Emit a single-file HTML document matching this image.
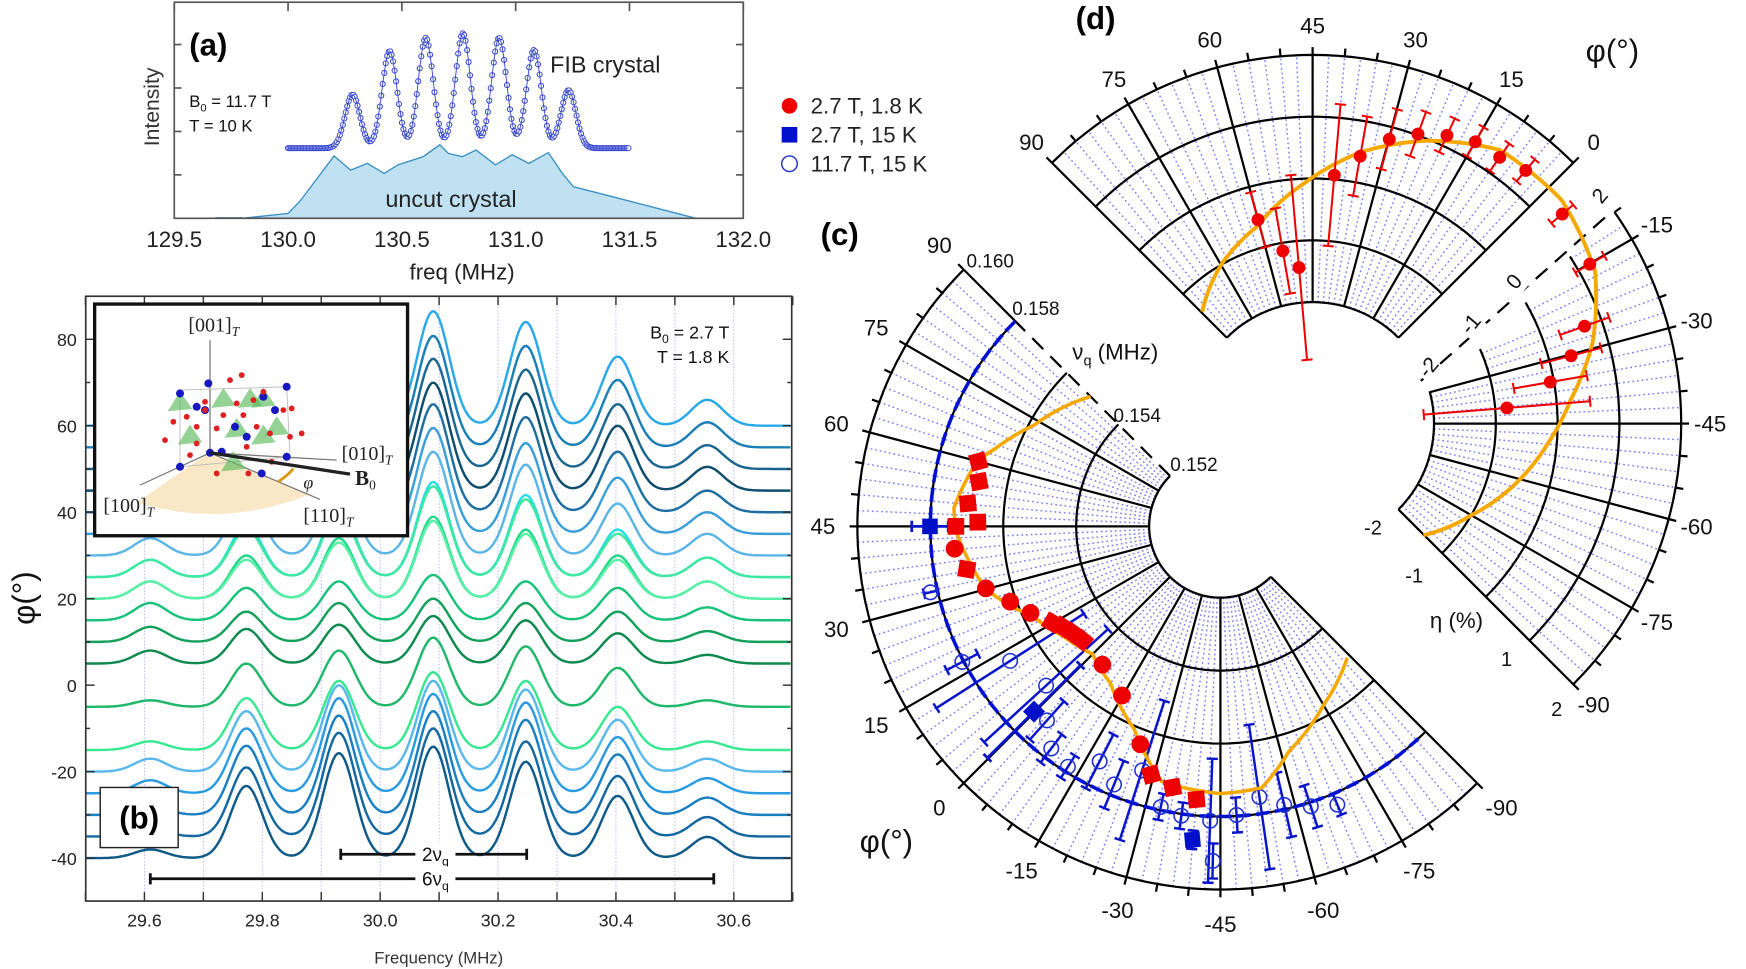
<!DOCTYPE html>
<html><head><meta charset="utf-8"><style>
html,body{margin:0;padding:0;background:#fff;}
svg{display:block;font-family:"Liberation Sans",Arial,sans-serif;}
</style></head><body>
<svg id="fig" width="1746" height="969" viewBox="0 0 1568 870" preserveAspectRatio="none" xmlns="http://www.w3.org/2000/svg">
<defs><clipPath id="clipB"><rect x="77" y="266" width="634" height="543"/></clipPath></defs>
<g id="pa"></g>
<g id="leg"></g>
<g id="pb"></g>
<g id="pc"></g>
<g id="pd"></g>
</svg>
<script>
// ---------- Panel (a) data ----------
const aTicks=[129.5,130.0,130.5,131.0,131.5,132.0];
const fibFreq=[130.283,130.446,130.605,130.768,130.927,131.080,131.232];
const fibHeight=[48,87,99,103,99,88,52];
const fibBase=63;
const uncutFreq=[129.798,130.0,130.055,130.202,130.275,130.349,130.422,130.483,130.593,130.667,130.704,130.765,130.826,130.911,130.985,131.058,131.144,131.205,131.254,131.425,131.792];
const uncutInt=[0,4.4,16,56,43.3,49.3,40.3,48,55.3,66,58.3,55.3,61.3,48,57,49.3,59,40.3,28.3,19.4,0];
// ---------- Panel (b) data ----------
const bXTicks=[29.6,29.8,30.0,30.2,30.4,30.6];
const bYTicks=[-40,-20,0,20,40,60,80];
const traceAngles=[60,55,50,45,40,35,30,25,25,20,20,15,10,5,-5,-15,-20,-25,-30,-35,-40];
const peakFreqs=[29.61,29.773,29.93,30.09,30.247,30.403,30.555];
const peakHeights=[
[2,20,24,26.5,24,16,6],[2,20,24,25.8,23.5,15.6,5.8],[2,20,24,25.5,23,15,5.5],[2,19,23,25,22.5,15,5.5],
[2,18,22,25,22,14,5],[3,16,20,24.5,21,13,5],[4,14,18,24,21,12,5],[4,12,16,22,19,11,4.5],
[4,11,15,21,18,10,4.5],[4,10,14,19,16,10,4],[4,9,13,18,15,9,4],[4,7.5,9,10.5,9,7.5,3],
[3.5,7,9,10,9,7,2.5],[3,8,9,11,10,7,2],[1.5,10,13,16,14,9,1.5],[2,12,16,18,16,10,2],
[3,14,20,21,19,12,3],[3,15,22,23,21,13,3.5],[2.5,16,23,24,22,14,4],[2,16,24,25,22,14,4.5],[2,16.7,24.3,25.8,22.3,14.4,4.9]];
const traceColors=['#2aa8e8','#1a7fb5','#1a6690','#0e4d6e','#1e6fa0','#3a9fd8','#5bb5e6','#2adbe8','#3ee8a0','#22d88a','#5af0a8','#19c27a','#13a05a','#0f8a4f','#1fb86a','#38e890','#5ab8ec','#2a9be0','#1a7fc0','#1468a0','#0f5a88'];
// ---------- Panel (c) data ----------
const cLabels=[90,75,60,45,30,15,0,-15,-30,-45,-60,-75,-90];
const cRings=[0.152,0.154,0.156,0.158,0.160];
const cOrangePhi=[90,73.5,64,60,49,44,30,19,10,0,-10,-22,-32,-45,-54,-62,-75,-89];
const cOrangeNu=[0.15508,0.15586,0.15658,0.15695,0.15737,0.1573,0.1567,0.15573,0.1553,0.155,0.1553,0.15609,0.15722,0.15737,0.1573,0.15649,0.1557,0.15505];
const cRedPhi=[60,55.5,50.2,46,45,40.2,35.4,30.2,25.3,20.5,15.2,12.6,9,5.5,-4.5,-14.8,-24.8,-29.4,-34.6,-40];
const cRedNu=[0.15692,0.15678,0.157,0.1567,0.1573,0.15736,0.1571,0.1567,0.15617,0.15577,0.15536,0.15518,0.15504,0.15495,0.15503,0.15541,0.15641,0.15711,0.15732,0.15756];
const cRedShape=['s','s','s','s','s','c','s','c','c','c','s','s','s','s','c','c','c','s','s','s'];
const cOpenPhi=[32.2,17.3,12.4,2.6,-3.2,-7.7,-12.6,-17.8,-22.6,-27.2,-33,-37.3,-43,-43.7,-48.2,-53.2,-57.9,-62.9,-67.8];
const cOpenNu=[0.1582,0.15804,0.15689,0.15652,0.15718,0.1577,0.15785,0.15729,0.1577,0.15707,0.15791,0.15805,0.15812,0.15922,0.15797,0.15754,0.15788,0.15811,0.15832];
const cOpenErr=[0.00018,0.00048,0.0024,0.0023,0.0007,0.00048,0.00036,0.00083,0.0007,0.002,0.00036,0.00036,0.0017,0.00048,0.00048,0.002,0.0009,0.0006,0.0003];
const cFillPhi=[45,0.2,-39.9];
const cFillNu=[0.15801,0.15725,0.15867];
const cFillErr=[0.0005,0.0018,0.00025];
const cDashPhi=[90,60,30,0,-30,-60,-88];
const cDashNu=[0.158,0.158,0.158,0.158,0.158,0.158,0.158];
// ---------- Panel (d) data ----------
const dLabels=[90,75,60,45,30,15,0,-15,-30,-45,-60,-75,-90];
const dEtaTicks=[-2,-1,0,1,2];
const dOrangePhi=[89.6,75,60.7,46.9,34.8,22.8,10.6,-3.1,-16.6,-28.9,-39.7,-50,-58.9,-75,-90.2];
const dOrangeEta=[-1.42,-1.0,-0.65,-0.07,0.5,0.98,1.40,1.45,1.23,0.75,0.23,-0.15,-0.45,-1.0,-1.42];
const dRedPhi=[60,54.8,50,40,34.9,29.9,25,20,15,9.9,4.9,-5,-15.1,-25.3,-30.3,-35.1,-40.4];
const dRedEta=[-0.55,-1.13,-1.43,0.07,0.43,0.8,1.02,1.18,1.30,1.30,1.39,1.31,1.21,0.71,0.36,-0.06,-0.81];
const dRedErr=[0.46,0.7,1.5,1.15,0.65,0.5,0.38,0.3,0.27,0.27,0.23,0.23,0.27,0.42,0.5,0.6,1.35];

const NS='http://www.w3.org/2000/svg';
function mk(tag,attrs,parent){const e=document.createElementNS(NS,tag);for(const k in attrs)e.setAttribute(k,attrs[k]);parent.appendChild(e);return e;}
function tx(str,attrs,parent){const e=mk('text',attrs,parent);e.textContent=str;return e;}
const pa=document.getElementById('pa'),pb=document.getElementById('pb'),pc=document.getElementById('pc'),pd=document.getElementById('pd'),leg=document.getElementById('leg');

// ===== Panel (a) =====
const xA=f=>156.5+(f-129.5)*204.4, yA=i=>196-i;
let el;
el=mk('path',{d:(()=>{let s='M'+xA(uncutFreq[0])+','+yA(0);uncutFreq.forEach((f,i)=>{s+=' L'+xA(f).toFixed(1)+','+yA(uncutInt[i]).toFixed(1);});return s+'Z';})(),fill:'#bfe1f2',stroke:'#3a8fc0','stroke-width':1.2},pa);


el=mk('line',{x1:xA(129.68),y1:195.5,x2:xA(129.8),y2:195.5,stroke:'#3a8fc0','stroke-width':1.2},pa);


const fibG=mk('g',{},pa);


let fibPath='';
for(let f=130.0;f<=131.5001;f+=0.0065){let v=fibBase;fibFreq.forEach((c,i)=>{v+=fibHeight[i]*Math.exp(-Math.pow(f-c,2)/(2*0.033*0.033));});
 const px=xA(f),py=yA(v);fibPath+=(fibPath?' L':'M')+px.toFixed(1)+','+py.toFixed(1);
 el=mk('circle',{cx:px.toFixed(1),cy:py.toFixed(1),r:2.3,fill:'#fff',stroke:'#3344cc','stroke-width':0.9},fibG);
 
 }
el=mk('path',{d:fibPath,fill:'none',stroke:'#3344cc','stroke-width':0.8},fibG);


el=mk('rect',{x:156.5,y:2,width:511,height:194,fill:'none',stroke:'#555','stroke-width':1.5},pa);


aTicks.forEach(t=>{
 el=mk('line',{x1:xA(t),y1:2,x2:xA(t),y2:10,stroke:'#555','stroke-width':1.5},pa);
 
 
 el=tx(t.toFixed(1),{x:xA(t),y:222,'text-anchor':'middle','font-size':20,fill:'#222'},pa);
 
 
});
[40,79,118,157].forEach(y=>{
 el=mk('line',{x1:156.5,y1:y,x2:163,y2:y,stroke:'#555','stroke-width':1.5},pa);
 
 
 el=mk('line',{x1:661,y1:y,x2:667.5,y2:y,stroke:'#555','stroke-width':1.5},pa);
 
 
});
</script>
<script>
// static text of panel a & legend
(function(){
 let e;
 e=tx('freq (MHz)',{x:415,y:251,'text-anchor':'middle','font-size':20,fill:'#222'},pa);
 
 
 e=tx('Intensity',{x:0,y:0,transform:'translate(143,96) rotate(-90)','text-anchor':'middle','font-size':19,fill:'#333'},pa);
 
 
 e=tx('(a)',{x:170,y:50,'font-size':28,'font-weight':'bold',fill:'#000'},pa);
 
 
 e=mk('text',{x:170,y:96,'font-size':15,fill:'#111'},pa);
 e.innerHTML='B<tspan font-size="10" dy="4">0</tspan><tspan dy="-4"> = 11.7 T</tspan>';
 
 
 e=tx('T = 10 K',{x:170,y:118,'font-size':15,fill:'#111'},pa);
 
 
 e=tx('FIB crystal',{x:494,y:65,'font-size':21,fill:'#222'},pa);
 
 
 e=tx('uncut crystal',{x:405,y:186,'text-anchor':'middle','font-size':21,fill:'#222'},pa);
 
 
 // legend
 e=mk('circle',{cx:709,cy:95,r:7,fill:'#ee0000'},leg);
 
 
 e=mk('rect',{x:702,y:114,width:14,height:14,fill:'#0011cc'},leg);
 
 
 e=mk('circle',{cx:709,cy:147,r:7,fill:'none',stroke:'#2233cc','stroke-width':1.3},leg);
 
 
 [['2.7 T, 1.8 K',102],['2.7 T, 15 K',128],['11.7 T, 15 K',154]].forEach(a=>{
  e=tx(a[0],{x:728,y:a[1],'font-size':20,fill:'#222'},leg);
  
  
 });
})();

// ===== Panel (b) =====
const xB=f=>129.7+(f-29.6)*529.3, yB=p=>304.6+(80-p)*3.882;
(function(){
 let e;
 for(let f=29.6;f<=30.61;f+=0.1){
  e=mk('line',{x1:xB(f),y1:266,x2:xB(f),y2:809,stroke:'#b8b8f0','stroke-width':0.8,'stroke-dasharray':'1.5 1.5'},pb);
  
  
 }
 const g=mk('g',{'clip-path':'url(#clipB)'},pb);
 
 
 traceAngles.forEach((phi,k)=>{
  let s='';
  for(let f=29.5;f<=30.7;f+=0.004){let v=phi;peakFreqs.forEach((c,i)=>{v+=peakHeights[k][i]*Math.exp(-Math.pow(f-c,2)/(2*0.027*0.027));});
   s+=(s?' L':'M')+xB(f).toFixed(1)+','+yB(v).toFixed(1);}
  e=mk('path',{d:s,fill:'none',stroke:traceColors[k],'stroke-width':2.2,'stroke-linejoin':'round'},g);
  
  
 });
 e=mk('rect',{x:77,y:266,width:634,height:543,fill:'none',stroke:'#333','stroke-width':1.5},pb);
 
 
 for(let f=29.5;f<=30.71;f+=0.1){
  e=mk('line',{x1:xB(f),y1:266,x2:xB(f),y2:274,stroke:'#333','stroke-width':1.3},pb);
  
  
  e=mk('line',{x1:xB(f),y1:801,x2:xB(f),y2:809,stroke:'#333','stroke-width':1.3},pb);
  
  
 }
 bXTicks.forEach(t=>{
  e=tx(t.toFixed(1),{x:xB(t),y:832,'text-anchor':'middle','font-size':16,fill:'#222'},pb);
  
  
 });
 for(let p=-40;p<=80;p+=10){
  const L=(p%20===0)?8:4;
  e=mk('line',{x1:77,y1:yB(p),x2:77+L,y2:yB(p),stroke:'#333','stroke-width':1.3},pb);
  
  
  e=mk('line',{x1:711-L,y1:yB(p),x2:711,y2:yB(p),stroke:'#333','stroke-width':1.3},pb);
  
  
 }
 bYTicks.forEach(t=>{
  e=tx(String(t),{x:69,y:yB(t)+6,'text-anchor':'end','font-size':16,fill:'#222'},pb);
  
  
 });
 e=tx('Frequency (MHz)',{x:394,y:865,'text-anchor':'middle','font-size':15,fill:'#333'},pb);
 
 
 e=tx('φ(°)',{x:0,y:0,transform:'translate(31,537) rotate(-90)','text-anchor':'middle','font-size':28,fill:'#111'},pb);
 
 
 e=mk('text',{x:655,y:304,'text-anchor':'end','font-size':16,fill:'#111'},pb);
 e.innerHTML='B<tspan font-size="11" dy="4">0</tspan><tspan dy="-4"> = 2.7 T</tspan>';
 
 
 e=tx('T = 1.8 K',{x:655,y:326,'text-anchor':'end','font-size':16,fill:'#111'},pb);
 
 
 // bars
 [[306,473,767,'2'],[135,641,789,'6']].forEach(b=>{
  e=mk('path',{d:`M${b[0]},${b[2]}H${b[1]}M${b[0]},${b[2]-5}V${b[2]+5}M${b[1]},${b[2]-5}V${b[2]+5}`,stroke:'#111','stroke-width':2.5,fill:'none'},pb);
  
  
  e=mk('rect',{x:373,y:b[2]-11,width:36,height:22,fill:'#fff'},pb);
  
  
  e=mk('text',{x:391,y:b[2]+6,'text-anchor':'middle','font-size':17,fill:'#111'},pb);
  e.innerHTML=b[3]+'ν<tspan font-size="11" dy="4">q</tspan>';
  
  
 });
 e=mk('rect',{x:90,y:707,width:70,height:54,fill:'#fff',stroke:'#222','stroke-width':1.3},pb);
 
 
 e=tx('(b)',{x:125,y:744,'text-anchor':'middle','font-size':28,'font-weight':'bold',fill:'#000'},pb);
 
 
 // inset
 const ig=mk('g',{},pb);
 
 
 e=mk('rect',{x:85,y:273,width:281,height:208,fill:'#fff',stroke:'#111','stroke-width':3},ig);
 
 
 e=mk('path',{d:'M188,406 L123,451 Q200,475 278,444 Z',fill:'#f8e4bc',opacity:0.85},ig);
 
 
 const P=(zx,zy)=>[(90+zx/3)/1.1135,(300+zy/3)/1.1135];
 const arrows=[[360,458,360,120,'#777'],[360,458,740,480,'#777'],[360,458,150,555,'#777'],[360,458,690,598,'#777']];
 arrows.forEach(a=>{const p1=P(a[0],a[1]),p2=P(a[2],a[3]);
  e=mk('line',{x1:p1[0],y1:p1[1],x2:p2[0],y2:p2[1],stroke:a[4],'stroke-width':1.1},ig);
  
  });
 e=mk('path',{d:(()=>{const p1=P(270,270),p2=P(590,260),p3=P(600,470),p4=P(270,500);return `M${p1}L${p2}L${p3}L${p4}Z`;})(),fill:'none',stroke:'#bbb','stroke-width':0.8},ig);
 
 
 [[270,310],[400,300],[480,300],[560,385],[300,410],[440,390],[520,410],[520,300],[430,490]].forEach(t=>{const c=P(t[0],t[1]);
  e=mk('polygon',{points:`${c[0]},${c[1]-11} ${c[0]-11},${c[1]+7} ${c[0]+11},${c[1]+5}`,fill:'#5cba5c',opacity:0.65},ig);
  
  });
 [[355,250],[270,280],[520,290],[590,260],[320,320],[555,330],[435,380],[470,410],[360,458],[395,455],[270,500],[515,520],[590,470],[345,330]].forEach(t=>{const c=P(t[0],t[1]);
  e=mk('circle',{cx:c[0],cy:c[1],r:3.6,fill:'#1818c0'},ig);
  
  });
 [[420,240],[455,225],[345,305],[440,310],[345,330],[400,345],[460,345],[250,365],[290,350],[320,380],[380,385],[225,420],[320,430],[300,465],[500,380],[540,400],[600,410],[635,400],[580,330],[605,325],[520,275],[490,300],[380,520],[475,520],[545,485],[470,440]].forEach(t=>{const c=P(t[0],t[1]);
  e=mk('circle',{cx:c[0],cy:c[1],r:2.6,fill:'#e02020'},ig);
  
  });
 const b1=P(360,458),b2=P(780,522);
 e=mk('line',{x1:b1[0],y1:b1[1],x2:b2[0],y2:b2[1],stroke:'#222','stroke-width':3},ig);
 
 
 e=mk('path',{d:`M${P(565,545)} Q${P(600,520)} ${P(610,505)}`,stroke:'#d49a10','stroke-width':2.5,fill:'none'},ig);
 
 
 const lab=(html,zx,zy,fs,name)=>{const c=P(zx,zy);const t=mk('text',{x:c[0],y:c[1],'font-size':fs,'font-family':'Liberation Serif, serif',fill:'#222'},ig);t.innerHTML=html;return t;};
 e=lab('[001]<tspan font-style="italic" font-size="12" dy="4">T</tspan>',295,95,18);
 
 
 e=lab('[010]<tspan font-style="italic" font-size="12" dy="4">T</tspan>',755,480,18);
 
 
 e=lab('[100]<tspan font-style="italic" font-size="12" dy="4">T</tspan>',40,635,18);
 
 
 e=lab('[110]<tspan font-style="italic" font-size="12" dy="4">T</tspan>',640,665,18);
 
 
 e=lab('<tspan font-weight="bold">B</tspan><tspan font-size="12" dy="4">0</tspan>',795,555,19);
 
 
 e=lab('<tspan font-style="italic">φ</tspan>',640,565,16);
 
 
})();
</script>
<script>
// ===== Panel (c) polar =====
const CX=1096,CY=472.6;
const rC=nu=>64+(nu-0.152)/0.002*65.5;
const ptC=(phi,r)=>{const t=(225-phi)*Math.PI/180;return [CX+r*Math.cos(t),CY-r*Math.sin(t)];};
const DX=1178.8,DY=380.3;
const rD=eta=>109+(eta+2)*55.5;
const ptD=(phi,r)=>{const t=(phi+45)*Math.PI/180;return [DX+r*Math.cos(t),DY-r*Math.sin(t)];};
function arcPath(pt,r,p1,p2){let s='';const n=Math.max(2,Math.ceil(Math.abs(p2-p1)));for(let i=0;i<=n;i++){const p=p1+(p2-p1)*i/n;const q=pt(p,r);s+=(i?' L':'M')+q[0].toFixed(1)+','+q[1].toFixed(1);}return s;}
function interp(xs,ys,x){for(let i=0;i<xs.length-1;i++){const a=xs[i],b=xs[i+1];if((x<=a&&x>=b)||(x>=a&&x<=b)){const t=(x-a)/(b-a||1);return ys[i]+(ys[i+1]-ys[i])*t;}}return ys[ys.length-1];}
function curvePath(pt,rf,phis,vals){let s='';const p0=phis[0],p1=phis[phis.length-1];const n=Math.ceil(Math.abs(p1-p0)*2);for(let i=0;i<=n;i++){const p=p0+(p1-p0)*i/n;const q=pt(p,rf(interp(phis,vals,p)));s+=(i?' L':'M')+q[0].toFixed(1)+','+q[1].toFixed(1);}return s;}
function errBar(g,pt,phi,r1,r2,color,w,name){
 const a=pt(phi,r1),b=pt(phi,r2);const dx=b[0]-a[0],dy=b[1]-a[1],L=Math.hypot(dx,dy)||1;const nx=-dy/L*5,ny=dx/L*5;
 const e=mk('path',{d:`M${a[0]},${a[1]}L${b[0]},${b[1]}M${a[0]-nx},${a[1]-ny}L${a[0]+nx},${a[1]+ny}M${b[0]-nx},${b[1]-ny}L${b[0]+nx},${b[1]+ny}`,stroke:color,'stroke-width':w,fill:'none'},g);
 return e;}
(function(){
 let e;
 const R0=rC(0.152),R1=rC(0.160);
 // dotted lines
 for(let p=-87.5;p<=87.6;p+=2.5){if(Math.abs(p%15)<0.01)continue;const a=ptC(p,R0),b=ptC(p,R1);
  e=mk('line',{x1:a[0],y1:a[1],x2:b[0],y2:b[1],stroke:'#7f7ff5','stroke-width':1.3,'stroke-dasharray':'1.6 2.6'},pc);
  
  }
 cRings.forEach(v=>{e=mk('path',{d:arcPath(ptC,rC(v),90,-90),fill:'none',stroke:'#000','stroke-width':2},pc);
  
  });
 for(let p=-90;p<=90;p+=15){
  if(p===90){const a=ptC(p,rC(0.158)),b=ptC(p,R1);
   e=mk('line',{x1:a[0],y1:a[1],x2:b[0],y2:b[1],stroke:'#000','stroke-width':2},pc);
   
   
   const c=ptC(p,R0);
   e=mk('line',{x1:c[0],y1:c[1],x2:a[0],y2:a[1],stroke:'#000','stroke-width':2,'stroke-dasharray':'14 9'},pc);
   
   
   continue;}
  const a=ptC(p,R0),b=ptC(p,R1);
  e=mk('line',{x1:a[0],y1:a[1],x2:b[0],y2:b[1],stroke:'#000','stroke-width':2},pc);
  
  }
 for(let p=-90;p<=90;p+=5){const a=ptC(p,R1),b=ptC(p,R1+7);
  e=mk('line',{x1:a[0],y1:a[1],x2:b[0],y2:b[1],stroke:'#000','stroke-width':2},pc);
  
  }
 cLabels.forEach(p=>{const q=ptC(p,R1+31);
  e=tx(String(p),{x:q[0],y:q[1]+7,'text-anchor':'middle','font-size':20,fill:'#111'},pc);
  
  });
 [['0.160',868,240],['0.158',909,283],['0.154',1000,379],['0.152',1051,423]].forEach(l=>{
  e=tx(l[0],{x:l[1],y:l[2],'font-size':17,fill:'#111'},pc);
  
  });
 e=mk('text',{x:963,y:323,'font-size':20,fill:'#111'},pc);
 e.innerHTML='ν<tspan font-size="13" dy="5">q</tspan><tspan dy="-5"> (MHz)</tspan>';
 
 
 e=tx('φ(°)',{x:772,y:765,'font-size':28,fill:'#111'},pc);
 
 
 e=tx('(c)',{x:737,y:220,'font-size':28,'font-weight':'bold',fill:'#000'},pc);
 
 
 // dashed blue
 e=mk('path',{d:curvePath(ptC,rC,cDashPhi,cDashNu),fill:'none',stroke:'#0010d0','stroke-width':3.2,'stroke-dasharray':'12 5'},pc);
 
 
 // open blue
 cOpenPhi.forEach((p,i)=>{
  e=errBar(pc,ptC,p,rC(cOpenNu[i]-cOpenErr[i]),rC(cOpenNu[i]+cOpenErr[i]),'#0a14c8',2.2);
  
  
  const q=ptC(p,rC(cOpenNu[i]));
  e=mk('circle',{cx:q[0],cy:q[1],r:6.5,fill:'none',stroke:'#2030d0','stroke-width':1.4},pc);
  
  });
 cFillPhi.forEach((p,i)=>{
  e=errBar(pc,ptC,p,rC(cFillNu[i]-cFillErr[i]),rC(cFillNu[i]+cFillErr[i]),'#0a14c8',2.5);
  
  
  const q=ptC(p,rC(cFillNu[i]));
  e=mk('rect',{x:q[0]-7,y:q[1]-7,width:14,height:14,fill:'#0010c8',transform:`rotate(${45-p} ${q[0]} ${q[1]})`},pc);
  
  });
 // orange
 e=mk('path',{d:curvePath(ptC,rC,cOrangePhi,cOrangeNu),fill:'none',stroke:'#f5a800','stroke-width':3.2},pc);
 
 
 cRedPhi.forEach((p,i)=>{
  e=errBar(pc,ptC,p,rC(cRedNu[i]-0.00014),rC(cRedNu[i]+0.00014),'#ee0000',2);
  
  
  const q=ptC(p,rC(cRedNu[i]));
  if(cRedShape[i]==='s'){e=mk('rect',{x:q[0]-7.5,y:q[1]-7.5,width:15,height:15,fill:'#ee0000',transform:`rotate(${45-p} ${q[0]} ${q[1]})`},pc);}
  else{e=mk('circle',{cx:q[0],cy:q[1],r:8,fill:'#ee0000'},pc);}
  
  });
})();

// ===== Panel (d) =====
(function(){
 let e;
 const Rin=rD(-2),Rout=rD(2);
 const ringStartB={'-2':-29.6,'-1':-21,'0':-15.4,'1':-12,'2':-10};
 const startR=p=>{if(p>=0)return Rin;for(const t of dEtaTicks){if(p<=ringStartB[String(t)])return rD(t);}return Rout;};
 for(let p=-87.5;p<=87.6;p+=2.5){if(Math.abs(p%15)<0.01)continue;if(p<0&&p>-10)continue;
  const a=ptD(p,startR(p)),b=ptD(p,Rout);
  e=mk('line',{x1:a[0],y1:a[1],x2:b[0],y2:b[1],stroke:'#7f7ff5','stroke-width':1.3,'stroke-dasharray':'1.6 2.6'},pd);
  
  }
 dEtaTicks.forEach(t=>{
  e=mk('path',{d:arcPath(ptD,rD(t),90,0),fill:'none',stroke:'#000','stroke-width':2},pd);
  
  
  e=mk('path',{d:arcPath(ptD,rD(t),ringStartB[String(t)],-90),fill:'none',stroke:'#000','stroke-width':2},pd);
  
  });
 for(let p=-90;p<=90;p+=15){const a=ptD(p,startR(p)),b=ptD(p,Rout);
  e=mk('line',{x1:a[0],y1:a[1],x2:b[0],y2:b[1],stroke:'#000','stroke-width':2},pd);
  
  }
 for(let p=-90;p<=90;p+=5){if(p<0&&p>-10)continue;const a=ptD(p,Rout),b=ptD(p,Rout+7);
  e=mk('line',{x1:a[0],y1:a[1],x2:b[0],y2:b[1],stroke:'#000','stroke-width':2},pd);
  
  }
 dLabels.forEach(p=>{const q=ptD(p,Rout+26);
  e=tx(String(p),{x:q[0],y:q[1]+7,'text-anchor':'middle','font-size':20,fill:'#111'},pd);
  
  });
 // eta labels along -90 edge
 [['-2',1233,480],['-1',1270,523],['1',1353,598],['2',1398,643]].forEach(l=>{
  e=tx(l[0],{x:l[1],y:l[2],'text-anchor':'middle','font-size':18,fill:'#111'},pd);
  
  });
 e=tx('η (%)',{x:1308,y:564,'text-anchor':'middle','font-size':20,fill:'#111'},pd);
 
 
 e=mk('line',{x1:1276,y1:342,x2:1445,y2:192,stroke:'#000','stroke-width':2,'stroke-dasharray':'14 9'},pd);
 
 
 [['-2',1283,336],['-1',1321,297],['0',1360,259],['2',1437,182]].forEach(l=>{
  e=mk('rect',{x:l[1]-10,y:l[2]-14,width:20,height:20,fill:'#fff',transform:`rotate(-50 ${l[1]} ${l[2]-5})`},pd);
  
  
  e=tx(l[0],{x:l[1],y:l[2],'text-anchor':'middle','font-size':19,fill:'#111',transform:`rotate(-50 ${l[1]} ${l[2]-6})`},pd);
  
  });
 e=tx('φ(°)',{x:1424,y:55,'font-size':28,fill:'#111'},pd);
 
 
 e=tx('(d)',{x:966,y:26,'font-size':28,'font-weight':'bold',fill:'#000'},pd);
 
 
 e=mk('path',{d:curvePath(ptD,rD,dOrangePhi,dOrangeEta),fill:'none',stroke:'#f5a800','stroke-width':3.5},pd);
 
 
 dRedPhi.forEach((p,i)=>{
  e=errBar(pd,ptD,p,rD(dRedEta[i]-dRedErr[i]),rD(dRedEta[i]+dRedErr[i]),'#ee0000',1.8);
  
  
  const q=ptD(p,rD(dRedEta[i]));
  e=mk('circle',{cx:q[0],cy:q[1],r:5.8,fill:'#ee0000'},pd);
  
  });
})();
</script>
</body></html>
